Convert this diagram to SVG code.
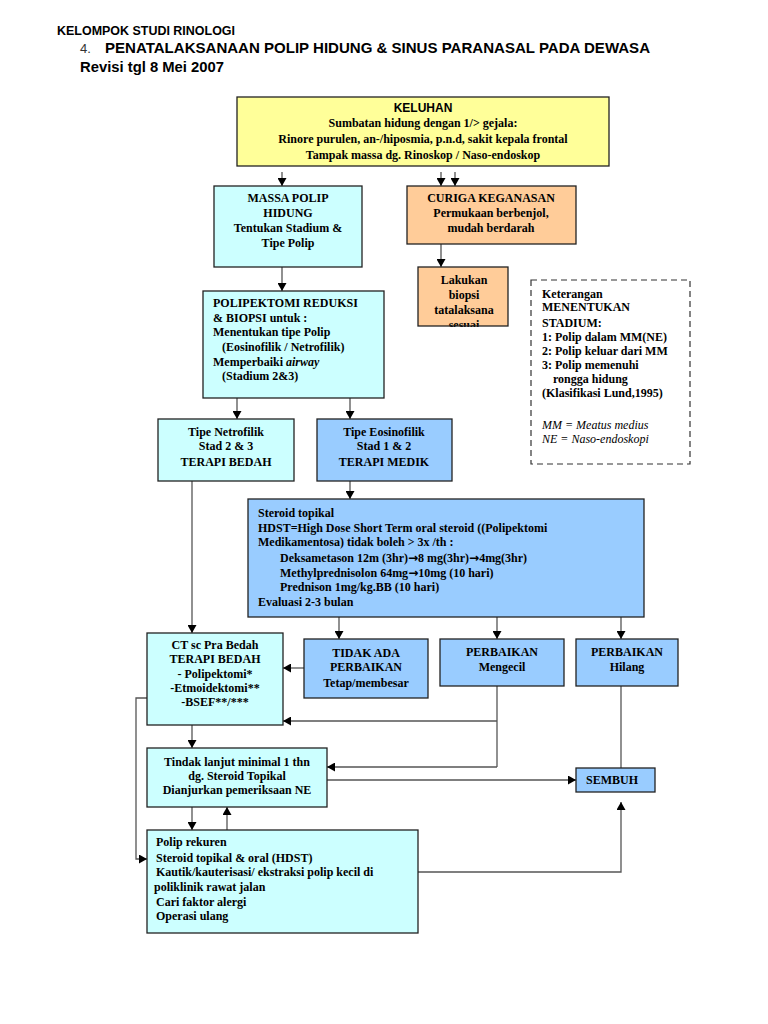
<svg xmlns="http://www.w3.org/2000/svg" width="768" height="1024" viewBox="0 0 768 1024">
<style>
.hd{font-family:"Liberation Sans",Arial,sans-serif;font-weight:bold;fill:#000}
.t{font-family:"Liberation Serif","Times New Roman",serif;font-weight:bold;font-size:12px;fill:#000}
.c{text-anchor:middle}
.i{font-weight:normal;font-style:italic}
.arw{font-family:"DejaVu Sans",sans-serif;font-weight:bold;font-size:12px}
.box{stroke:#222;stroke-width:1.3}
.cy{fill:#CCFFFF}.bl{fill:#99CCFF}.or{fill:#FFCC99}.ye{fill:#FFFF99}
.ln{fill:none;stroke:#555;stroke-width:1.3}
.ar{marker-end:url(#ah)}
</style>
<defs>
<marker id="ah" markerUnits="userSpaceOnUse" markerWidth="9" markerHeight="9" refX="8" refY="4.5" orient="auto">
<path d="M0,0 L8,4.5 L0,9 z" fill="#000"/>
</marker>
<clipPath id="clipL"><rect x="418" y="267" width="90" height="60"/></clipPath>
</defs>
<rect width="768" height="1024" fill="#fff"/>

<g id="header">
<text class="hd" x="57" y="35" font-size="12" textLength="178" lengthAdjust="spacingAndGlyphs">KELOMPOK STUDI RINOLOGI</text>
<text x="80" y="53" font-family="Liberation Sans,Arial,sans-serif" font-size="13" fill="#333">4.</text>
<text class="hd" x="105" y="53" font-size="15" textLength="545" lengthAdjust="spacingAndGlyphs">PENATALAKSANAAN POLIP HIDUNG &amp; SINUS PARANASAL PADA DEWASA</text>
<text class="hd" x="80" y="72" font-size="15" textLength="144" lengthAdjust="spacingAndGlyphs">Revisi tgl 8 Mei 2007</text>
</g>

<g id="connectors">
<line class="ln ar" x1="282" y1="172" x2="282" y2="186"/>
<line class="ln ar" x1="441" y1="172" x2="441" y2="186"/>
<line class="ln ar" x1="455" y1="172" x2="455" y2="186"/>
<line class="ln ar" x1="441" y1="244" x2="441" y2="267"/>
<line class="ln ar" x1="282" y1="267" x2="282" y2="291"/>
<line class="ln ar" x1="237" y1="398" x2="237" y2="419"/>
<line class="ln ar" x1="350" y1="398" x2="350" y2="419"/>
<line class="ln ar" x1="350" y1="481" x2="350" y2="499"/>
<line class="ln ar" x1="192" y1="481" x2="192" y2="633"/>
<line class="ln ar" x1="339" y1="617" x2="339" y2="639"/>
<line class="ln ar" x1="497" y1="617" x2="497" y2="639"/>
<line class="ln ar" x1="621" y1="617" x2="621" y2="639"/>
<line class="ln ar" x1="304" y1="668" x2="283" y2="668"/>
<polyline class="ln" points="497,686 497,767"/>
<polyline class="ln ar" points="497,721 283,721"/>
<polyline class="ln ar" points="497,767 327,767"/>
<line class="ln" x1="621" y1="686" x2="621" y2="768"/>
<line class="ln ar" x1="327" y1="780" x2="576" y2="780"/>
<line class="ln ar" x1="192" y1="725" x2="192" y2="748"/>
<line class="ln ar" x1="192" y1="807" x2="192" y2="830"/>
<line class="ln ar" x1="227" y1="830" x2="227" y2="807"/>
<polyline class="ln ar" points="147,698 136,698 136,859 147,859"/>
<polyline class="ln ar" points="418,872 621,872 621,802"/>
</g>

<g id="keluhan">
<rect class="box ye" x="237" y="97" width="372" height="69"/>
<text class="hd c" x="423" y="112" font-size="12">KELUHAN</text>
<text class="t c" x="423" y="127">Sumbatan hidung dengan 1/&gt; gejala:</text>
<text class="t c" x="423" y="143">Rinore purulen,  an-/hiposmia, p.n.d, sakit kepala frontal</text>
<text class="t c" x="423" y="159">Tampak massa dg. Rinoskop / Naso-endoskop</text>
</g>

<g id="massa">
<rect class="box cy" x="214" y="186" width="148" height="81"/>
<text class="t c" x="288" y="202">MASSA POLIP</text>
<text class="t c" x="288" y="217">HIDUNG</text>
<text class="t c" x="288" y="232">Tentukan Stadium &amp;</text>
<text class="t c" x="288" y="247">Tipe Polip</text>
</g>

<g id="curiga">
<rect class="box or" x="407" y="186" width="169" height="58"/>
<text class="t c" x="491" y="202">CURIGA KEGANASAN</text>
<text class="t c" x="491" y="217">Permukaan berbenjol,</text>
<text class="t c" x="491" y="232">mudah berdarah</text>
</g>

<g id="lakukan">
<rect class="or" x="418" y="267" width="90" height="59"/>
<text class="t c" x="464" y="284">Lakukan</text>
<text class="t c" x="464" y="299">biopsi</text>
<text class="t c" x="464" y="314">tatalaksana</text>
<text class="t c" x="464" y="329" clip-path="url(#clipL)">sesuai</text>
<rect class="box" fill="none" x="418" y="267" width="90" height="59"/>
</g>

<g id="polipektomi">
<rect class="box cy" x="203" y="291" width="181" height="107"/>
<text class="t" x="213" y="307">POLIPEKTOMI REDUKSI</text>
<text class="t" x="213" y="322">&amp; BIOPSI  untuk :</text>
<text class="t" x="213" y="336">Menentukan tipe Polip</text>
<text class="t" x="222" y="351">(Eosinofilik / Netrofilik)</text>
<text class="t" x="213" y="366">Memperbaiki <tspan font-style="italic">airway</tspan></text>
<text class="t" x="222" y="380">(Stadium 2&amp;3)</text>
</g>

<g id="keterangan">
<rect x="531" y="280" width="159" height="184" fill="#fff" stroke="#333" stroke-width="1.2" stroke-dasharray="6,4"/>
<text class="t" x="542" y="298">Keterangan</text>
<text class="t" x="542" y="311">MENENTUKAN</text>
<text class="t" x="542" y="327">STADIUM:</text>
<text class="t" x="542" y="341">1: Polip dalam MM(NE)</text>
<text class="t" x="542" y="355">2: Polip keluar dari MM</text>
<text class="t" x="542" y="369">3: Polip memenuhi</text>
<text class="t" x="553" y="383">rongga hidung</text>
<text class="t" x="542" y="397">(Klasifikasi Lund,1995)</text>
<text class="t i" x="542" y="429">MM = Meatus medius</text>
<text class="t i" x="542" y="443">NE  = Naso-endoskopi</text>
</g>

<g id="netrofilik">
<rect class="box cy" x="158" y="419" width="136" height="62"/>
<text class="t c" x="226" y="436">Tipe Netrofilik</text>
<text class="t c" x="226" y="450">Stad 2 &amp; 3</text>
<text class="t c" x="226" y="466">TERAPI BEDAH</text>
</g>

<g id="eosinofilik">
<rect class="box bl" x="317" y="419" width="135" height="62"/>
<text class="t c" x="384" y="436">Tipe Eosinofilik</text>
<text class="t c" x="384" y="450">Stad 1 &amp; 2</text>
<text class="t c" x="384" y="466">TERAPI MEDIK</text>
</g>

<g id="steroid">
<rect class="box bl" x="248" y="499" width="396" height="118"/>
<text class="t" x="258" y="517">Steroid topikal</text>
<text class="t" x="258" y="532">HDST=High Dose Short Term oral steroid ((Polipektomi</text>
<text class="t" x="258" y="546">Medikamentosa) tidak boleh &gt; 3x /th :</text>
<text class="t" x="280" y="562">Deksametason 12m (3hr)<tspan class="arw">→</tspan>8 mg(3hr)<tspan class="arw">→</tspan>4mg(3hr)</text>
<text class="t" x="280" y="577">Methylprednisolon 64mg<tspan class="arw">→</tspan>10mg (10 hari)</text>
<text class="t" x="280" y="591">Prednison 1mg/kg.BB (10 hari)</text>
<text class="t" x="258" y="606">Evaluasi 2-3 bulan</text>
</g>

<g id="ctsc">
<rect class="box cy" x="147" y="633" width="136" height="92"/>
<text class="t c" x="215" y="649">CT sc Pra Bedah</text>
<text class="t c" x="215" y="663">TERAPI BEDAH</text>
<text class="t c" x="215" y="678">- Polipektomi*</text>
<text class="t c" x="215" y="692">-Etmoidektomi**</text>
<text class="t c" x="215" y="706">-BSEF**/***</text>
</g>

<g id="tidakada">
<rect class="box bl" x="304" y="639" width="124" height="59"/>
<text class="t c" x="366" y="657">TIDAK ADA</text>
<text class="t c" x="366" y="671">PERBAIKAN</text>
<text class="t c" x="366" y="687">Tetap/membesar</text>
</g>

<g id="mengecil">
<rect class="box bl" x="440" y="639" width="124" height="47"/>
<text class="t c" x="502" y="656">PERBAIKAN</text>
<text class="t c" x="502" y="671">Mengecil</text>
</g>

<g id="hilang">
<rect class="box bl" x="576" y="639" width="102" height="47"/>
<text class="t c" x="627" y="656">PERBAIKAN</text>
<text class="t c" x="627" y="671">Hilang</text>
</g>

<g id="tindaklanjut">
<rect class="box cy" x="147" y="748" width="180" height="59"/>
<text class="t c" x="237" y="766">Tindak lanjut minimal 1 thn</text>
<text class="t c" x="237" y="780">dg. Steroid Topikal</text>
<text class="t c" x="237" y="794">Dianjurkan pemeriksaan NE</text>
</g>

<g id="sembuh">
<rect class="box bl" x="576" y="768" width="79" height="24"/>
<text class="t" x="586" y="784">SEMBUH</text>
</g>

<g id="rekuren">
<rect class="box cy" x="147" y="830" width="271" height="103"/>
<text class="t" x="156" y="846">Polip rekuren</text>
<text class="t" x="156" y="862">Steroid topikal &amp; oral (HDST)</text>
<text class="t" x="156" y="876">Kautik/kauterisasi/ ekstraksi  polip kecil di</text>
<text class="t" x="154" y="891">poliklinik rawat jalan</text>
<text class="t" x="156" y="906">Cari faktor alergi</text>
<text class="t" x="156" y="920">Operasi ulang</text>
</g>
</svg>
